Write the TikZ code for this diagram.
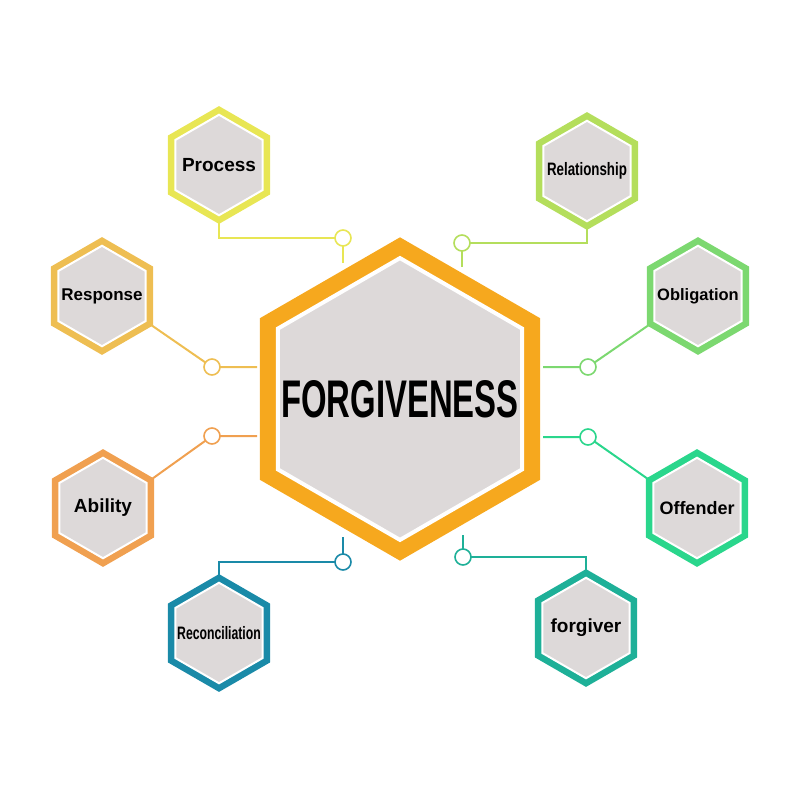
\documentclass[tikz,border=0pt]{standalone}
\usepackage{fontspec}
\setmainfont{Liberation Sans}
\usetikzlibrary{shapes.geometric,backgrounds}
\definecolor{hexgray}{RGB}{221,217,217}
\definecolor{coreorange}{RGB}{246,168,30}
\definecolor{procyellow}{RGB}{232,230,84}
\definecolor{relgreen}{RGB}{180,222,92}
\definecolor{obgreen}{RGB}{124,216,112}
\definecolor{offgreen}{RGB}{42,214,140}
\definecolor{forteal}{RGB}{30,176,152}
\definecolor{recblue}{RGB}{26,138,168}
\definecolor{ablorange}{RGB}{240,160,80}
\definecolor{respgold}{RGB}{238,190,82}

\begin{document}
\begin{tikzpicture}[x=1pt,y=-1pt,
	hexbox/.style={regular polygon,regular polygon sides=6,shape border rotate=30,minimum size=100.5pt,inner sep=0pt,outer sep=0pt,fill=hexgray,draw=white,line width=2pt,preaction={draw=#1,line width=15pt}},
	every label/.style={font=\bfseries\fontsize{18}{20}\selectfont,inner sep=0pt},
	joint/.style={circle,draw=#1,fill=white,minimum size=16pt,inner sep=0pt,outer sep=0pt,line width=1.6pt},
	link/.style={draw=#1,line width=2pt}]
	\useasboundingbox (0,0) rectangle (800,800);
	\node (core) at (400,399) [regular polygon,regular polygon sides=6,shape border rotate=30,minimum size=281.8pt,inner sep=0pt,outer sep=0pt,fill=hexgray,draw=white,line width=4pt,preaction={draw=coreorange,line width=36pt},label={center:\scalebox{0.62}[1]{\fontsize{53}{60}\selectfont FORGIVENESS}}] {};
	\node (proc) at (219,165) [hexbox=procyellow,label={[font=\bfseries\fontsize{19}{20}\selectfont]center:Process}] {};
	\node (rel) at (587,171) [hexbox=relgreen,label={center:\scalebox{0.74}[1]{Relationship}}] {};
	\node (resp) at (102,296) [hexbox=respgold,label={[font=\bfseries\fontsize{17}{20}\selectfont]center:Response}] {};
	\node (obli) at (698,296) [hexbox=obgreen,label={[font=\bfseries\fontsize{16.5}{20}\selectfont]center:Obligation}] {};
	\node (abil) at (103,508) [hexbox=ablorange,label={[font=\bfseries\fontsize{19}{20}\selectfont]center:Ability}] {};
	\node (offe) at (697,508) [hexbox=offgreen,label={center:Offender}] {};
	\node (reco) at (219,633) [hexbox=recblue,label={center:\scalebox{0.68}[1]{Reconciliation}}] {};
	\node (forg) at (586,628) [hexbox=forteal,label={[font=\bfseries\fontsize{19}{20}\selectfont]center:forgiver}] {};
	\node (cproc) at (343,238) [joint=procyellow] {};
	\node (crel) at (462,243) [joint=relgreen] {};
	\node (cresp) at (212,367) [joint=respgold] {};
	\node (cobli) at (588,367) [joint=obgreen] {};
	\node (cabil) at (212,436) [joint=ablorange] {};
	\node (coffe) at (588,437) [joint=offgreen] {};
	\node (creco) at (343,562) [joint=recblue] {};
	\node (cforg) at (463,557) [joint=forteal] {};
	\coordinate (eproc) at (343,263);
	\coordinate (erel) at (462,267);
	\coordinate (eresp) at (257,367);
	\coordinate (eobli) at (543,367);
	\coordinate (eabil) at (257,436);
	\coordinate (eoffe) at (543,437);
	\coordinate (ereco) at (343,537);
	\coordinate (eforg) at (463,535);
	\begin{scope}[on background layer]
		\draw [link=procyellow] (proc.270) |- (cproc) -- (eproc);
		\draw [link=relgreen] (rel.270) |- (crel) -- (erel);
		\draw [link=respgold] (resp.-30) -- (cresp) -- (eresp);
		\draw [link=obgreen] (obli.210) -- (cobli) -- (eobli);
		\draw [link=ablorange] (abil.30) -- (cabil) -- (eabil);
		\draw [link=offgreen] (offe.150) -- (coffe) -- (eoffe);
		\draw [link=recblue] (reco.90) |- (creco) -- (ereco);
		\draw [link=forteal] (forg.90) |- (cforg) -- (eforg);
	\end{scope}
\end{tikzpicture}
\end{document}
